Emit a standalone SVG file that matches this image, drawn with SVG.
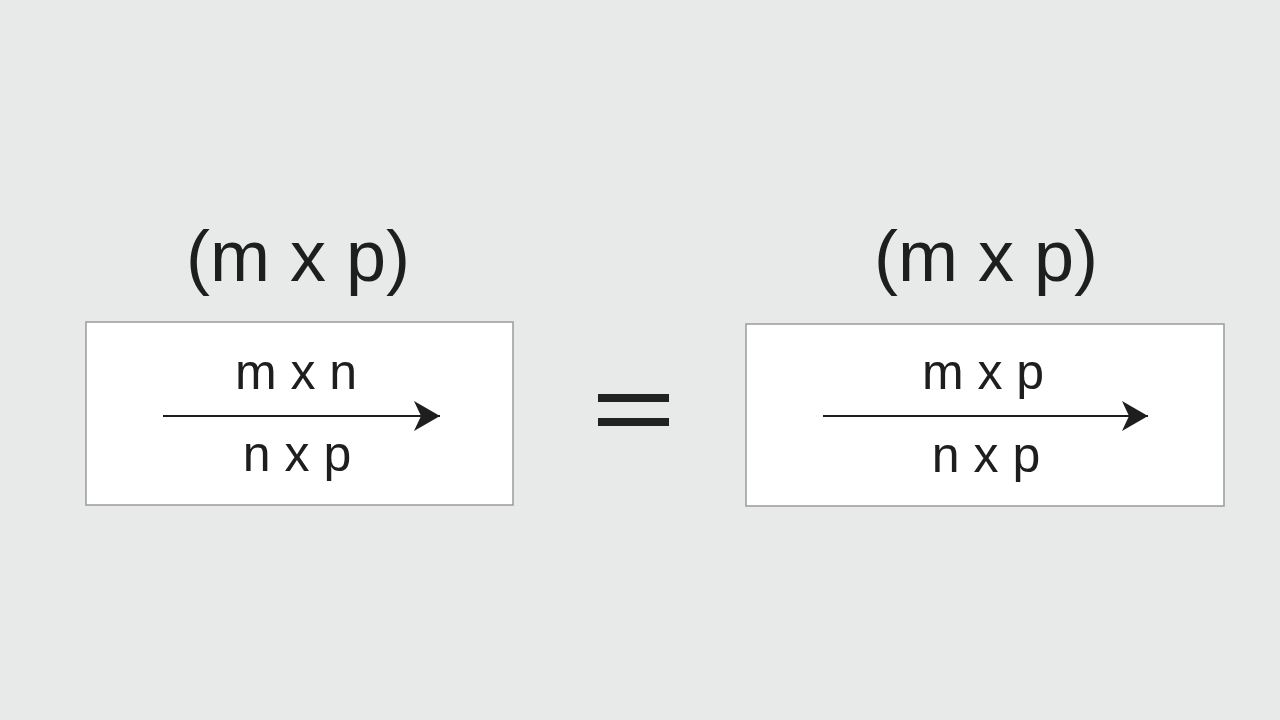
<svg xmlns="http://www.w3.org/2000/svg" width="1280" height="720" viewBox="0 0 1280 720">
  <defs>
    <style>
      .t { font-family: "Liberation Sans", Arial, sans-serif; fill: #1e1e1e; text-anchor: middle; }
      .title { font-size: 72px; }
      .lbl { font-size: 50px; }
      .box { fill: #ffffff; stroke: #9a9a9a; stroke-width: 1.5; }
      .arrow { stroke: #1e1e1e; stroke-width: 2.2; fill: none; }
    </style>
    <marker id="ah" viewBox="0 0 26 30" refX="26" refY="15" markerWidth="26" markerHeight="30" markerUnits="userSpaceOnUse" orient="auto">
      <path d="M0,0 L26,15 L0,30 L7,15 Z" fill="#1e1e1e"/>
    </marker>
  </defs>
  <rect width="1280" height="720" fill="#e8e9e9"/>

  <g id="left-title">
    <text class="t title" x="298" y="281">(m x p)</text>
  </g>
  <g id="left-box">
    <rect class="box" x="86" y="322" width="427" height="183"/>
    <text class="t lbl" x="296" y="389">m x n</text>
    <text class="t lbl" x="297" y="471">n x p</text>
  </g>

  <g id="equals">
    <rect x="598" y="394" width="71" height="8" fill="#222"/>
    <rect x="598" y="418" width="71" height="8" fill="#222"/>
  </g>

  <g id="right-title">
    <text class="t title" x="986" y="281">(m x p)</text>
  </g>
  <g id="right-box">
    <rect class="box" x="746" y="324" width="478" height="182"/>
    <text class="t lbl" x="983" y="389">m x p</text>
    <text class="t lbl" x="986" y="472">n x p</text>
  </g>

  <g id="connectors">
    <line class="arrow" x1="163" y1="416" x2="440" y2="416" marker-end="url(#ah)"/>
    <line class="arrow" x1="823" y1="416" x2="1148" y2="416" marker-end="url(#ah)"/>
  </g>
</svg>
